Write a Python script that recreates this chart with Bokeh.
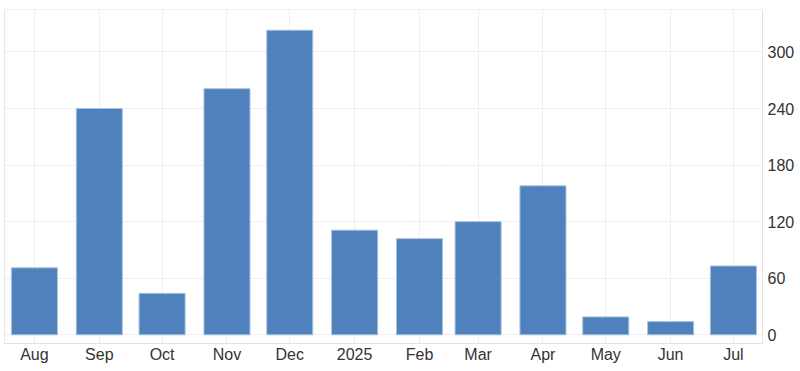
from datetime import datetime, timedelta

from bokeh.embed import file_html
from bokeh.models import (ColumnDataSource, CustomJSTickFormatter, FixedTicker,
                          Range1d, Span)
from bokeh.plotting import figure
from bokeh.resources import INLINE

# Monthly change, Aug 2024 - Jul 2025 (thousands)
months = ["2024-08", "2024-09", "2024-10", "2024-11", "2024-12", "2025-01",
          "2025-02", "2025-03", "2025-04", "2025-05", "2025-06", "2025-07"]
values = [71, 240, 44, 261, 323, 111, 102, 120, 158, 19, 14, 73]
y_ticks = [0, 60, 120, 180, 240, 300]

dates = [datetime.strptime(m, "%Y-%m") for m in months]
source = ColumnDataSource(dict(date=dates, value=values))

x_start = dates[0] - timedelta(days=14.3)
x_end = dates[-1] + timedelta(days=13.9)

p = figure(width=800, height=371, x_axis_type="datetime", y_axis_location="right",
           output_backend="svg", toolbar_location=None,
           x_range=Range1d(x_start, x_end), y_range=Range1d(-9.2, 345))
p.min_border_left = 4
p.min_border_right = 38
p.min_border_top = 9
p.min_border_bottom = 28
p.background_fill_color = "white"
p.border_fill_color = "white"

bar_width = timedelta(days=22).total_seconds() * 1000
p.vbar(x="date", top="value", bottom=0, width=bar_width, source=source,
       fill_color="#4f81bd", line_color="#a9c1df", line_width=1)

grid_color = "#dedede"
p.outline_line_color = grid_color
p.outline_line_dash = "1 1"
p.xgrid.grid_line_color = grid_color
p.xgrid.grid_line_dash = "1 1"
p.ygrid.grid_line_color = grid_color
p.ygrid.grid_line_dash = "1 1"

# solid left edge of the plot frame
p.add_layout(Span(location=x_start.timestamp() * 1000, dimension="height",
                  line_color="#e2e2e2", line_width=1))

xa = p.xaxis[0]
xa.ticker = FixedTicker(ticks=[d.timestamp() * 1000 for d in dates])
xa.formatter = CustomJSTickFormatter(code="""
    const names = ["Jan","Feb","Mar","Apr","May","Jun","Jul","Aug","Sep","Oct","Nov","Dec"];
    const d = new Date(tick);
    const m = d.getUTCMonth();
    return m == 0 ? String(d.getUTCFullYear()) : names[m];
""")
ya = p.yaxis[0]
ya.ticker = FixedTicker(ticks=y_ticks)

for ax in (xa, ya):
    ax.axis_line_color = "#e2e2e2"
    ax.major_tick_line_color = None
    ax.minor_tick_line_color = None
    ax.major_tick_out = 0
    ax.major_tick_in = 0
    ax.major_label_text_font = "Liberation Sans"
    ax.major_label_text_font_size = "16px"
    ax.major_label_text_color = "#333333"
xa.major_label_standoff = 2
ya.major_label_standoff = 5

open("out.html", "w").write(file_html(p, INLINE))
